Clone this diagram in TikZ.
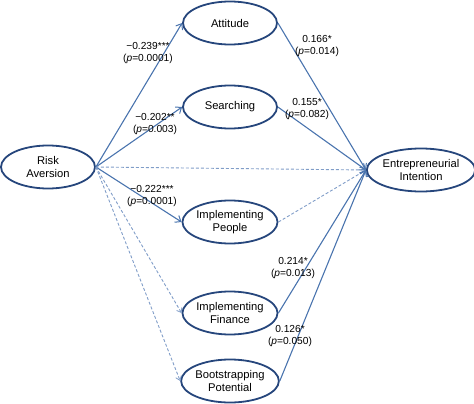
\documentclass[tikz,border=0pt]{standalone}
\usepackage{fontspec}
\setmainfont{Liberation Sans}
\usetikzlibrary{shapes.geometric,arrows.meta}
\definecolor{ellc}{HTML}{26467C}
\definecolor{edgec}{HTML}{4A74AE}
\definecolor{dashc}{HTML}{809DC8}
\tikzset{
  latent/.style={ellipse, draw=ellc, line width=1.8pt, minimum width=94pt, minimum height=43pt, inner sep=0pt, align=center, font=\fontsize{11.2}{13.5}\selectfont},
  solidpath/.style={draw=edgec, line width=1.1pt, -{Straight Barb[length=5pt,width=8pt,line width=1pt]}},
  dashpath/.style={draw=dashc, line width=0.9pt, dash pattern=on 3pt off 2pt, -{Straight Barb[length=4pt,width=6pt,line width=0.8pt]}},
  coef/.style={align=center, font=\fontsize{10.2}{12.8}\selectfont, inner sep=0pt}
}
\begin{document}
\begin{tikzpicture}[x=1pt,y=-1pt]
\useasboundingbox (0,0) rectangle (474,404);
\node[latent] (ra) at (48,167) {Risk\\Aversion};
\node[latent] (att) at (230,23) {Attitude};
\node[latent] (sea) at (230,107) {Searching};
\node[latent] (ip) at (230,222) {Implementing\\People};
\node[latent] (if) at (230,313) {Implementing\\Finance};
\node[latent] (bp) at (230,381) {Bootstrapping\\Potential};
\node[latent, minimum width=101pt] (ei) at (421,170) {Entrepreneurial\\Intention};

\draw[solidpath] (ra.east) -- (att.west);
\draw[solidpath] (ra.east) -- (sea.west);
\draw[solidpath] (ra.east) -- (ip.west);
\draw[dashpath] (ra.east) -- (ei.west);
\draw[dashpath] (ra.east) -- (if.west);
\draw[dashpath] (ra.east) -- (bp.west);

\draw[solidpath] (att.east) -- (ei.west);
\draw[solidpath] (sea.east) -- (ei.west);
\draw[dashpath] (ip.east) -- (ei.west);
\draw[solidpath] (if.east) -- (ei.west);
\draw[solidpath] (bp.east) -- (ei.west);

\node[coef] (l1) at (148,53) {−0.239***\\(\textit{p}=0.0001)};
\node[coef] (l2) at (155,124) {−0.202**\\(\textit{p}=0.003)};
\node[coef] (l3) at (152,196) {−0.222***\\(\textit{p}=0.0001)};
\node[coef] (l4) at (317,46) {0.166*\\(\textit{p}=0.014)};
\node[coef] (l5) at (307,109) {0.155*\\(\textit{p}=0.082)};
\node[coef] (l6) at (293,268) {0.214*\\(\textit{p}=0.013)};
\node[coef] (l7) at (290,336) {0.126*\\(\textit{p}=0.050)};
\end{tikzpicture}
\end{document}
